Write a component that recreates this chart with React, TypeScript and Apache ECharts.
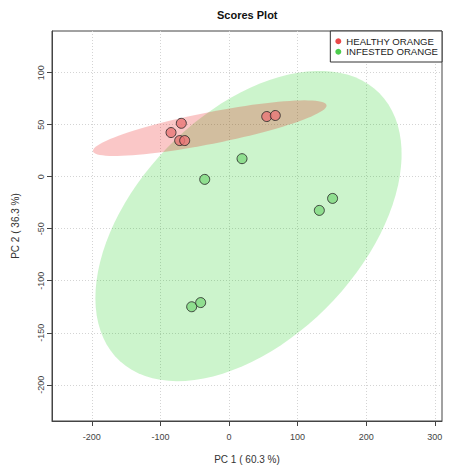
import React, { useEffect, useRef } from "react";
import * as echarts from "echarts";

// PCA scores for the two groups
const groupNames = ["HEALTHY ORANGE", "INFESTED ORANGE"];
const healthyPC1 = [-69.5, -84.5, -71.9, -64.6, 55, 67.5];
const healthyPC2 = [51.3, 42.4, 34.7, 34.7, 57.8, 58.8];
const infestedPC1 = [19, -35.4, 131.7, 151, -54.4, -41.3];
const infestedPC2 = [17.3, -2.6, -32.4, -20.9, -125, -121];

const xTicks = [-200, -100, 0, 100, 200, 300];
const yTicks = [-200, -150, -100, -50, 0, 50, 100];
const confidenceLevel = 0.95;

const FONT = "'Liberation Sans', Arial, sans-serif";

// 95% confidence ellipse from a group's covariance (as ellipse::ellipse in R)
function confidenceEllipse(xs: number[], ys: number[], level: number, n = 100): number[][] {
  const k = xs.length;
  const mx = xs.reduce((a, b) => a + b, 0) / k;
  const my = ys.reduce((a, b) => a + b, 0) / k;
  let vx = 0, vy = 0, cxy = 0;
  for (let i = 0; i < k; i++) {
    vx += (xs[i] - mx) ** 2;
    vy += (ys[i] - my) ** 2;
    cxy += (xs[i] - mx) * (ys[i] - my);
  }
  vx /= k - 1; vy /= k - 1; cxy /= k - 1;
  const sx = Math.sqrt(vx), sy = Math.sqrt(vy);
  const r = cxy / (sx * sy);
  const t = Math.sqrt(-2 * Math.log(1 - level));
  const d = Math.acos(r);
  const pts: number[][] = [];
  for (let i = 0; i < n; i++) {
    const a = (2 * Math.PI * i) / (n - 1);
    pts.push([t * sx * Math.cos(a + d / 2) + mx, t * sy * Math.cos(a - d / 2) + my]);
  }
  return pts;
}

function ellipseSeries(pts: number[][], fill: string) {
  return {
    type: "custom",
    silent: true,
    data: [[pts[0][0], pts[0][1]]],
    renderItem: (_params: any, api: any) => ({
      type: "polygon",
      shape: { points: pts.map((p) => api.coord(p)) },
      style: { fill },
    }),
  };
}

// outlined markers are set per point so the legend dots stay plain
const outlined = (xs: number[], ys: number[]) =>
  xs.map((x, i) => ({ value: [x, ys[i]], itemStyle: { borderColor: "#222", borderWidth: 1 } }));

export default function App() {
  const ref = useRef<HTMLDivElement>(null);

  useEffect(() => {
    document.body.style.margin = "0";
    if (!ref.current) return;
    const chart = echarts.init(ref.current, null, { renderer: "svg" });

    const healthyEllipse = confidenceEllipse(healthyPC1, healthyPC2, confidenceLevel);
    const infestedEllipse = confidenceEllipse(infestedPC1, infestedPC2, confidenceLevel);

    const gridLine = { show: true, lineStyle: { color: "#d4d4d4", type: [1, 2], width: 1 } };

    chart.setOption({
      animation: false,
      backgroundColor: "#fff",
      textStyle: { fontFamily: FONT },
      title: {
        text: "Scores Plot",
        left: 217,
        top: 9,
        padding: 0,
        textStyle: { fontSize: 11, fontWeight: "bold", color: "#111", fontFamily: FONT },
      },
      legend: {
        data: [
          { name: groupNames[0], icon: "circle", itemStyle: { color: "#e41a1c" } },
          { name: groupNames[1], icon: "circle", itemStyle: { color: "#1fbf1f" } },
        ],
        orient: "vertical",
        right: 32,
        top: 31,
        itemWidth: 6,
        itemHeight: 6,
        itemGap: 0,
        padding: [5, 4, 5, 5],
        borderColor: "#333",
        borderWidth: 1,
        backgroundColor: "#fff",
        selectedMode: false,
        textStyle: { fontSize: 9.6, color: "#222", lineHeight: 10.5, fontFamily: FONT },
      },
      grid: {
        left: 52,
        top: 31,
        width: 390,
        height: 390,
        show: true,
        borderColor: "#444",
        borderWidth: 1,
      },
      xAxis: {
        type: "value",
        min: -258,
        max: 310.5,
        name: "PC 1 ( 60.3 %)",
        nameLocation: "middle",
        nameGap: 33,
        nameTextStyle: { fontSize: 10, color: "#333", fontFamily: FONT },
        axisLine: { show: true, onZero: false, lineStyle: { color: "#444" } },
        axisTick: { show: true, length: 5, customValues: xTicks, lineStyle: { color: "#444" } },
        axisLabel: { fontSize: 9, color: "#444", margin: 11, customValues: xTicks, fontFamily: FONT },
        splitLine: gridLine,
      },
      yAxis: {
        type: "value",
        min: -234.8,
        max: 140,
        name: "PC 2 ( 36.3 %)",
        nameLocation: "middle",
        nameGap: 32,
        nameTextStyle: { fontSize: 10, color: "#333", fontFamily: FONT },
        axisLine: { show: true, onZero: false, lineStyle: { color: "#444" } },
        axisTick: { show: true, length: 5, customValues: yTicks, lineStyle: { color: "#444" } },
        axisLabel: { fontSize: 9, color: "#444", margin: 7, rotate: 90, customValues: yTicks, fontFamily: FONT },
        splitLine: gridLine,
      },
      series: [
        ellipseSeries(infestedEllipse, "rgba(0, 200, 0, 0.2)"),
        ellipseSeries(healthyEllipse, "rgba(230, 0, 0, 0.22)"),
        {
          name: groupNames[1],
          type: "scatter",
          data: outlined(infestedPC1, infestedPC2),
          symbolSize: 10,
          itemStyle: { color: "#80d880" },
        },
        {
          name: groupNames[0],
          type: "scatter",
          data: outlined(healthyPC1, healthyPC2),
          symbolSize: 10,
          itemStyle: { color: "#e97777" },
        },
      ],
    });

    return () => chart.dispose();
  }, []);

  return <div ref={ref} style={{ width: 474, height: 474 }} />;
}
